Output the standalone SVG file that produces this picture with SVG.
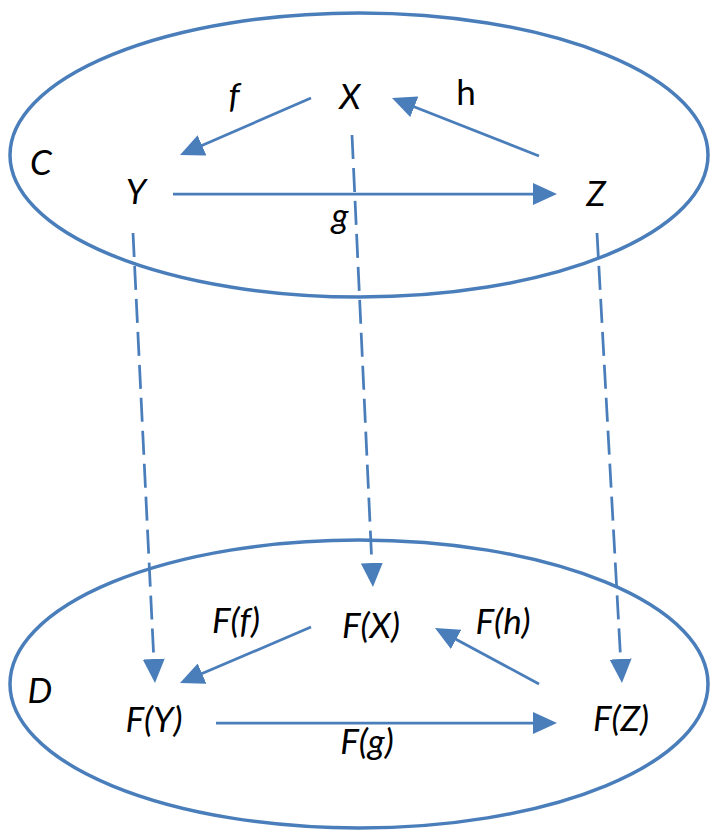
<svg xmlns="http://www.w3.org/2000/svg" width="722" height="832" viewBox="0 0 722 832">
<style>
.area{fill:none;stroke:#4a7ebb;stroke-width:3.5}
.arr{fill:none;stroke:#4a7ebb;stroke-width:2.75;marker-end:url(#ah)}
.dash{stroke-dasharray:24 9}
.t{font-family:Lato,"Liberation Sans",sans-serif;font-size:35px;font-style:italic;fill:#000;text-anchor:middle}
.up{font-style:normal}
</style>
<defs>
<marker id="ah" viewBox="0 0 24 22" refX="14" refY="11" markerWidth="24" markerHeight="22" markerUnits="userSpaceOnUse" orient="auto">
<path d="M0,0 L24,11 L0,22 z" fill="#4a7ebb"/>
</marker>
</defs>
<g id="category-C">
<ellipse class="area" cx="359" cy="155" rx="349" ry="142"/>
<text class="t" x="41" y="175">C</text>
</g>
<g id="category-D">
<ellipse class="area" cx="359" cy="684" rx="349" ry="144"/>
<text class="t" x="40" y="703">D</text>
</g>
<g id="node-X"><text class="t" x="350" y="109">X</text></g>
<g id="node-Y"><text class="t" x="136" y="204">Y</text></g>
<g id="node-Z"><text class="t" x="596" y="206">Z</text></g>
<g id="node-FX"><text class="t" x="371" y="638">F(X)</text></g>
<g id="node-FY"><text class="t" x="154" y="732">F(Y)</text></g>
<g id="node-FZ"><text class="t" x="621" y="731">F(Z)</text></g>
<g id="connectors">
<line class="arr dash" x1="352" y1="135" x2="372.5" y2="577"/>
<line class="arr dash" x1="133" y1="233" x2="154.5" y2="673"/>
<line class="arr dash" x1="597" y1="233" x2="621.4" y2="673"/>
<line class="arr" x1="311" y1="98" x2="189.2" y2="151"/>
<line class="arr" x1="539" y1="156" x2="401.3" y2="101.7"/>
<line class="arr" x1="173" y1="194" x2="547" y2="194"/>
<line class="arr" x1="311" y1="627" x2="189.2" y2="679.1"/>
<line class="arr" x1="539" y1="684" x2="443.8" y2="632.7"/>
<line class="arr" x1="216" y1="723" x2="547" y2="723"/>
<text class="t" x="234" y="108">f</text>
<text class="t up" x="466" y="105">h</text>
<text class="t" x="340" y="228">g</text>
<text class="t" x="236" y="633">F(f)</text>
<text class="t" x="503" y="634">F(h)</text>
<text class="t" x="367" y="754">F(g)</text>
</g>
</svg>
